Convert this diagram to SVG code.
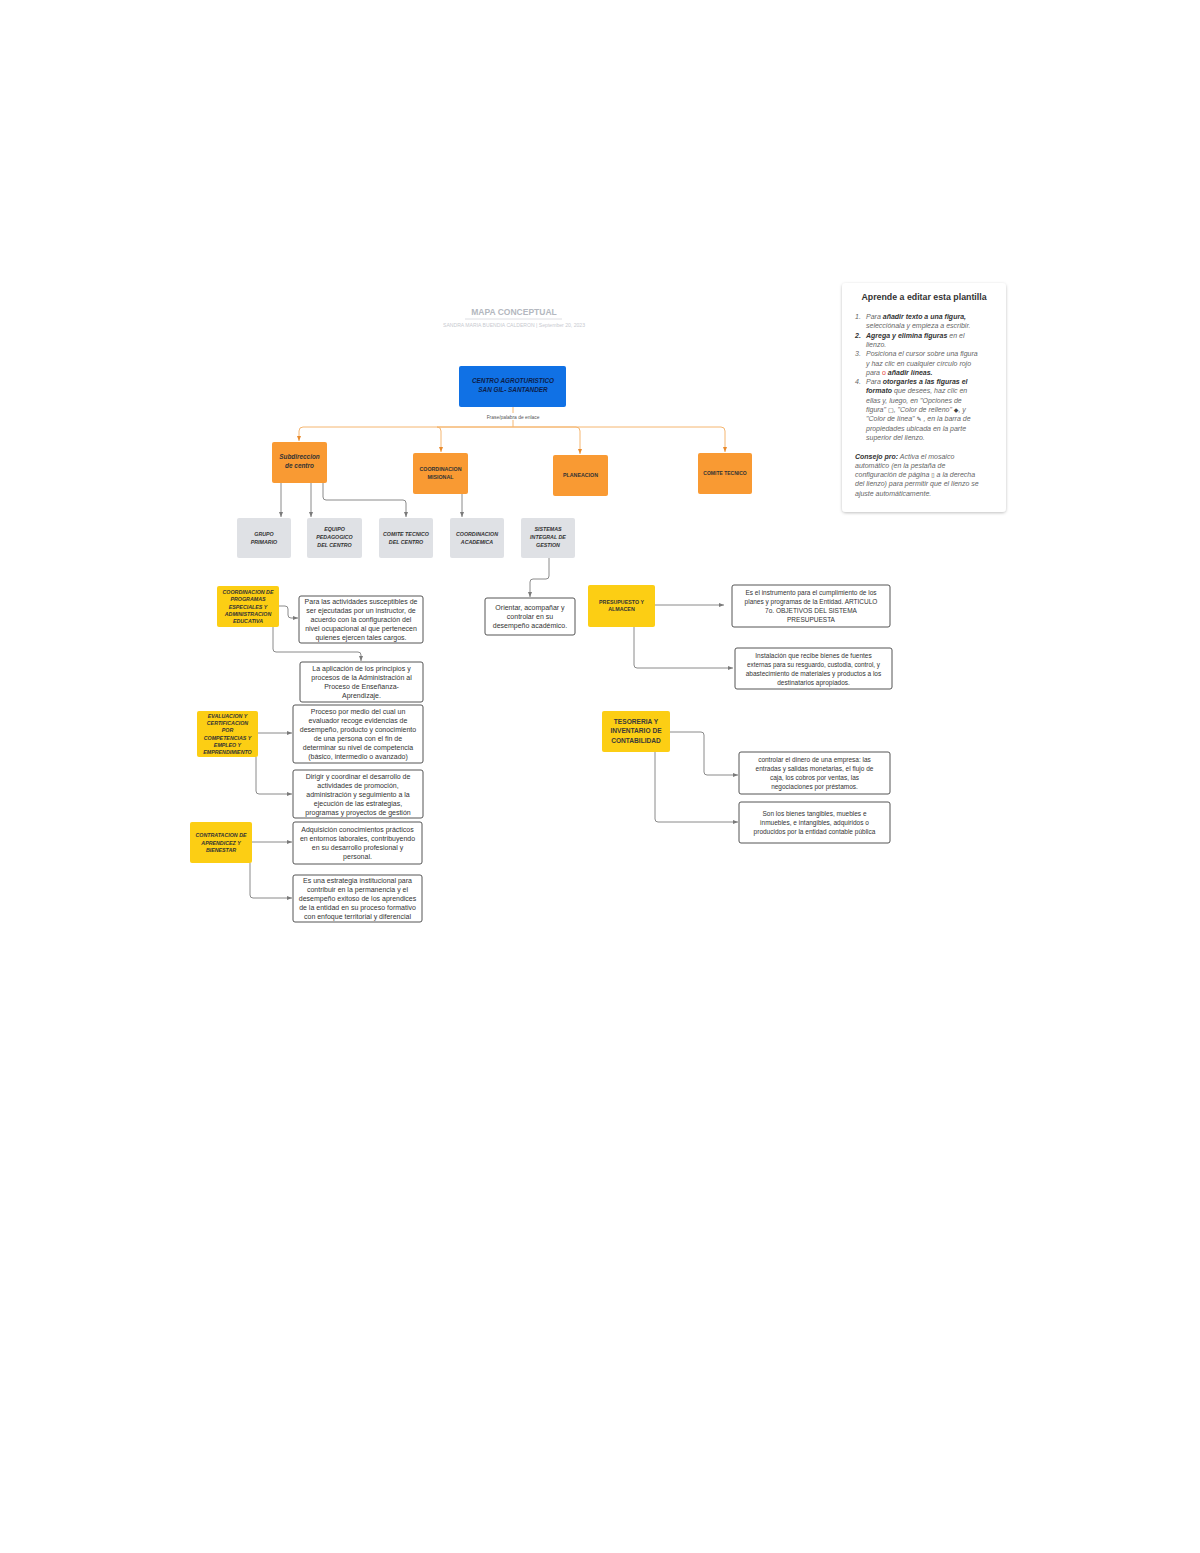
<svg xmlns="http://www.w3.org/2000/svg" width="1200" height="1553" viewBox="0 0 1200 1553">
<defs>
<marker id="ag" viewBox="0 0 10 10" refX="10" refY="5" markerWidth="5" markerHeight="5" orient="auto" markerUnits="userSpaceOnUse"><path d="M0,1 L10,5 L0,9 z" fill="#7a7a7a"/></marker>
<marker id="ao" viewBox="0 0 10 10" refX="10" refY="5" markerWidth="5" markerHeight="5" orient="auto" markerUnits="userSpaceOnUse"><path d="M0,1 L10,5 L0,9 z" fill="#e98a2c"/></marker>
<filter id="sh" x="-10%" y="-10%" width="120%" height="120%"><feDropShadow dx="0" dy="1" stdDeviation="1.5" flood-color="#000" flood-opacity="0.25"/></filter>
</defs>
<style>
text{font-family:"Liberation Sans",Arial,sans-serif;}
.bx{fill:#fff;stroke:#555;stroke-width:1;}
.gr{fill:#dfe1e5;}
.or{fill:#f99a33;}
.ye{fill:#fcce14;}
.t{font-size:7px;fill:#333;text-anchor:middle;}
.tr{font-size:6.5px;fill:#333;text-anchor:middle;}
.n{font-size:5.3px;font-weight:bold;font-style:italic;fill:#333;text-anchor:middle;}
.nb{font-size:5.3px;font-weight:bold;fill:#333;text-anchor:middle;}
.cg{fill:none;stroke:#8a8a8a;stroke-width:1;marker-end:url(#ag);}
.co{fill:none;stroke:#f5b671;stroke-width:1;marker-end:url(#ao);}
.sb{font-size:7px;font-style:italic;fill:#666;}
.sbb{font-weight:bold;fill:#333;}
.ic{font-family:"DejaVu Sans",sans-serif;font-style:normal;fill:#444;font-size:6px;}
</style>
<rect width="1200" height="1553" fill="#fff"/>

<g id="title">
<text x="514" y="315" style="font-size:8.5px;font-weight:bold;fill:#b4b8c0;text-anchor:middle;">MAPA CONCEPTUAL</text>
<line x1="465" y1="319" x2="562" y2="319" stroke="#d4d6da" stroke-width="0.8"/>
<text x="514" y="327" style="font-size:5.1px;fill:#c8cad0;text-anchor:middle;">SANDRA MARIA BUENDIA CALDERON  |  September 20, 2023</text>
</g>

<g id="connectors">
<path d="M513 407 V427" fill="none" stroke="#f5b671" stroke-width="1"/>
<path class="co" d="M513 427 H303 Q299 427 299 431 V441"/>
<path class="co" d="M513 427 H437 Q441 427 441 431 V452"/>
<path class="co" d="M513 427 H576 Q580 427 580 431 V454"/>
<path class="co" d="M513 427 H721 Q725 427 725 431 V452"/>
<path class="cg" d="M281 483 V517"/>
<path class="cg" d="M311 483 V517"/>
<path class="cg" d="M323 483 V497 Q323 500 326 500 H403 Q406 500 406 503 V517"/>
<path class="cg" d="M462 494 V517"/>
<path class="cg" d="M549 558 V576 Q549 579 546 579 H533 Q530 579 530 582 V597"/>
<path class="cg" d="M279 606 H285 Q288 606 288 609 V615 Q288 618 291 618 H298"/>
<path class="cg" d="M273 627 V649 Q273 652 276 652 H358 Q361 652 361 655 V661"/>
<path class="cg" d="M258 733 H292"/>
<path class="cg" d="M256 757 V791 Q256 794 259 794 H292"/>
<path class="cg" d="M252 842 H292"/>
<path class="cg" d="M250 863 V895 Q250 898 253 898 H292"/>
<path class="cg" d="M655 605 H724"/>
<path class="cg" d="M634 627 V665 Q634 668 637 668 H733"/>
<path class="cg" d="M670 732 H701 Q704 732 704 735 V772 Q704 775 707 775 H738"/>
<path class="cg" d="M655 752 V819 Q655 822 658 822 H738"/>
<rect x="483" y="413" width="60" height="7" fill="#fff"/>
<text x="513" y="418.6" style="font-size:4.9px;fill:#555;text-anchor:middle;">Frase/palabra de enlace</text>
</g>

<g id="root">
<rect x="459" y="366" width="107" height="41" rx="2" fill="#1071e5"/>
<text x="513" y="383.3" style="font-size:6.4px;font-weight:bold;font-style:italic;fill:#0d1e4a;text-anchor:middle;">CENTRO  AGROTURISTICO</text>
<text x="513" y="392.3" style="font-size:6.4px;font-weight:bold;font-style:italic;fill:#0d1e4a;text-anchor:middle;">SAN GIL- SANTANDER</text>
</g>

<g id="subdireccion">
<rect class="or" x="272" y="442" width="55" height="41" rx="2"/>
<text class="n" x="299.5" y="459" style="font-size:6.4px;">Subdireccion</text>
<text class="n" x="299.5" y="468" style="font-size:6.4px;">de centro</text>
</g>
<g id="coordinacion-misional">
<rect class="or" x="413" y="453" width="55" height="41" rx="2"/>
<text class="nb" x="440.5" y="471.3">COORDINACION</text>
<text class="nb" x="440.5" y="478.7">MISIONAL</text>
</g>
<g id="planeacion">
<rect class="or" x="553" y="455" width="55" height="41" rx="2"/>
<text class="nb" x="580.5" y="477">PLANEACION</text>
</g>
<g id="comite-tecnico">
<rect class="or" x="698" y="453" width="54" height="41" rx="2"/>
<text class="nb" x="725" y="475" style="font-size:5px;">COMITE TECNICO</text>
</g>

<g id="grupo-primario">
<rect class="gr" x="237" y="518" width="54" height="40" rx="2"/>
<text class="n" x="264" y="536">GRUPO</text>
<text class="n" x="264" y="543.7">PRIMARIO</text>
</g>
<g id="equipo-pedagogico">
<rect class="gr" x="307" y="518" width="55" height="40" rx="2"/>
<text class="n" x="334.5" y="531.3">EQUIPO</text>
<text class="n" x="334.5" y="539.3">PEDAGOGICO</text>
<text class="n" x="334.5" y="547">DEL CENTRO</text>
</g>
<g id="comite-tecnico-centro">
<rect class="gr" x="379" y="518" width="54" height="40" rx="2"/>
<text class="n" x="406" y="536">COMITE TECNICO</text>
<text class="n" x="406" y="543.7">DEL CENTRO</text>
</g>
<g id="coordinacion-academica">
<rect class="gr" x="450" y="518" width="54" height="40" rx="2"/>
<text class="n" x="477" y="536">COORDINACION</text>
<text class="n" x="477" y="543.7">ACADEMICA</text>
</g>
<g id="sistemas">
<rect class="gr" x="521" y="518" width="54" height="40" rx="2"/>
<text class="n" x="548" y="531.3">SISTEMAS</text>
<text class="n" x="548" y="539.3">INTEGRAL DE</text>
<text class="n" x="548" y="547">GESTION</text>
</g>

<g id="orientar">
<rect class="bx" x="485" y="598" width="90" height="37" rx="2"/>
<text class="t" x="530" y="610">Orientar, acompañar y</text>
<text class="t" x="530" y="619">controlar en su</text>
<text class="t" x="530" y="628">desempeño académico.</text>
</g>

<g id="coord-programas">
<rect class="ye" x="217" y="586" width="62" height="41" rx="2"/>
<text class="n" x="248" y="594">COORDINACION DE</text>
<text class="n" x="248" y="601.3">PROGRAMAS</text>
<text class="n" x="248" y="608.6">ESPECIALES Y</text>
<text class="n" x="248" y="615.9">ADMINISTRACION</text>
<text class="n" x="248" y="623.2">EDUCATIVA</text>
</g>
<g id="desc-actividades">
<rect class="bx" x="299" y="596" width="124" height="47" rx="2"/>
<text class="t" x="361" y="604">Para las actividades susceptibles de</text>
<text class="t" x="361" y="613">ser ejecutadas por un instructor, de</text>
<text class="t" x="361" y="622">acuerdo con la configuración del</text>
<text class="t" x="361" y="631">nivel ocupacional al que pertenecen</text>
<text class="t" x="361" y="640">quienes ejercen tales cargos.</text>
</g>
<g id="desc-aplicacion">
<rect class="bx" x="300" y="662" width="123" height="40" rx="2"/>
<text class="t" x="361.5" y="671">La aplicación de los principios y</text>
<text class="t" x="361.5" y="680">procesos de la Administración al</text>
<text class="t" x="361.5" y="689">Proceso de Enseñanza-</text>
<text class="t" x="361.5" y="698">Aprendizaje.</text>
</g>

<g id="evaluacion">
<rect class="ye" x="197" y="711" width="61" height="46" rx="2"/>
<text class="n" x="227.5" y="717.8">EVALUACION Y</text>
<text class="n" x="227.5" y="725.1">CERTIFICACION</text>
<text class="n" x="227.5" y="732.4">POR</text>
<text class="n" x="227.5" y="739.7">COMPETENCIAS Y</text>
<text class="n" x="227.5" y="747">EMPLEO Y</text>
<text class="n" x="227.5" y="754.3">EMPRENDIMIENTO</text>
</g>
<g id="desc-proceso">
<rect class="bx" x="293" y="705" width="130" height="58" rx="2"/>
<text class="t" x="358" y="714">Proceso por medio del cual un</text>
<text class="t" x="358" y="723">evaluador recoge evidencias de</text>
<text class="t" x="358" y="732">desempeño, producto y conocimiento</text>
<text class="t" x="358" y="741">de una persona con el fin de</text>
<text class="t" x="358" y="750">determinar su nivel de competencia</text>
<text class="t" x="358" y="759">(básico, intermedio o avanzado)</text>
</g>
<g id="desc-dirigir">
<rect class="bx" x="293" y="770" width="130" height="48" rx="2"/>
<text class="t" x="358" y="778.5">Dirigir y coordinar el desarrollo de</text>
<text class="t" x="358" y="787.5">actividades de promoción,</text>
<text class="t" x="358" y="796.5">administración y seguimiento a la</text>
<text class="t" x="358" y="805.5">ejecución de las estrategias,</text>
<text class="t" x="358" y="814.5">programas y proyectos de gestión</text>
</g>

<g id="contratacion">
<rect class="ye" x="190" y="822" width="62" height="41" rx="2"/>
<text class="n" x="221" y="837.2">CONTRATACION DE</text>
<text class="n" x="221" y="844.5">APRENDICEZ Y</text>
<text class="n" x="221" y="851.8">BIENESTAR</text>
</g>
<g id="desc-adquisicion">
<rect class="bx" x="293" y="822" width="129" height="42" rx="2"/>
<text class="t" x="357.5" y="832">Adquisición conocimientos prácticos</text>
<text class="t" x="357.5" y="841">en entornos laborales, contribuyendo</text>
<text class="t" x="357.5" y="850">en su desarrollo profesional y</text>
<text class="t" x="357.5" y="859">personal.</text>
</g>
<g id="desc-estrategia">
<rect class="bx" x="293" y="875" width="129" height="47" rx="2"/>
<text class="t" x="357.5" y="883">Es una estrategia institucional para</text>
<text class="t" x="357.5" y="892">contribuir en la permanencia y el</text>
<text class="t" x="357.5" y="901">desempeño exitoso de los aprendices</text>
<text class="t" x="357.5" y="910">de la entidad en su proceso formativo</text>
<text class="t" x="357.5" y="919">con enfoque territorial y diferencial</text>
</g>

<g id="presupuesto">
<rect class="ye" x="588" y="585" width="67" height="42" rx="2"/>
<text class="nb" x="621.5" y="603.5">PRESUPUESTO Y</text>
<text class="nb" x="621.5" y="611">ALMACEN</text>
</g>
<g id="desc-instrumento">
<rect class="bx" x="732" y="585" width="158" height="42" rx="2"/>
<text class="tr" x="811" y="595">Es el instrumento para el cumplimiento de los</text>
<text class="tr" x="811" y="604">planes y programas de la Entidad. ARTICULO</text>
<text class="tr" x="811" y="613">7o. OBJETIVOS DEL SISTEMA</text>
<text class="tr" x="811" y="622">PRESUPUESTA</text>
</g>
<g id="desc-instalacion">
<rect class="bx" x="735" y="648" width="157" height="41" rx="2"/>
<text class="tr" x="813.5" y="657.5">Instalación que recibe bienes de fuentes</text>
<text class="tr" x="813.5" y="666.5" style="font-size:6.3px;">externas para su resguardo, custodia, control, y</text>
<text class="tr" x="813.5" y="675.5">abastecimiento de materiales y productos a los</text>
<text class="tr" x="813.5" y="684.5">destinatarios apropiados.</text>
</g>

<g id="tesoreria">
<rect class="ye" x="602" y="711" width="68" height="41" rx="2"/>
<text x="636" y="723.5" style="font-size:6.6px;font-weight:bold;fill:#3a3a3a;text-anchor:middle;">TESORERIA Y</text>
<text x="636" y="733" style="font-size:6.6px;font-weight:bold;fill:#3a3a3a;text-anchor:middle;">INVENTARIO DE</text>
<text x="636" y="742.5" style="font-size:6.6px;font-weight:bold;fill:#3a3a3a;text-anchor:middle;">CONTABILIDAD</text>
</g>
<g id="desc-controlar">
<rect class="bx" x="739" y="752" width="151" height="42" rx="2"/>
<text class="tr" x="814.5" y="762">controlar el dinero de una empresa: las</text>
<text class="tr" x="814.5" y="771">entradas y salidas monetarias, el flujo de</text>
<text class="tr" x="814.5" y="780">caja, los cobros por ventas, las</text>
<text class="tr" x="814.5" y="789">negociaciones por préstamos.</text>
</g>
<g id="desc-bienes">
<rect class="bx" x="739" y="802" width="151" height="41" rx="2"/>
<text class="tr" x="814.5" y="816">Son los bienes tangibles, muebles e</text>
<text class="tr" x="814.5" y="825">inmuebles, e intangibles, adquiridos o</text>
<text class="tr" x="814.5" y="834">producidos por la entidad contable pública</text>
</g>

<g id="sidebar">
<rect x="842" y="283" width="164" height="229" rx="4" fill="#fff" filter="url(#sh)"/>
<text x="924" y="300" style="font-size:8.8px;font-weight:bold;fill:#333;text-anchor:middle;">Aprende a editar esta plantilla</text>
<text class="sb" x="855" y="319">1.</text>
<text class="sb" x="866" y="319">Para <tspan class="sbb">añadir texto a una figura,</tspan></text>
<text class="sb" x="866" y="328.3">selecciónala y empieza a escribir.</text>
<text class="sb sbb" x="855" y="337.6">2.</text>
<text class="sb" x="866" y="337.6"><tspan class="sbb">Agrega y elimina figuras</tspan> en el</text>
<text class="sb" x="866" y="346.9">lienzo.</text>
<text class="sb" x="855" y="356.2">3.</text>
<text class="sb" x="866" y="356.2">Posiciona el cursor sobre una figura</text>
<text class="sb" x="866" y="365.5">y haz clic en cualquier círculo rojo</text>
<text class="sb" x="866" y="374.8">para <tspan style="fill:#e53935;font-style:normal;">o</tspan> <tspan class="sbb">añadir líneas.</tspan></text>
<text class="sb" x="855" y="384.1">4.</text>
<text class="sb" x="866" y="384.1">Para <tspan class="sbb">otorgarles a las figuras el</tspan></text>
<text class="sb" x="866" y="393.4"><tspan class="sbb">formato</tspan> que desees, haz clic en</text>
<text class="sb" x="866" y="402.7">ellas y, luego, en "Opciones de</text>
<text class="sb" x="866" y="412">figura" <tspan class="ic">▢</tspan>, "Color de relleno" <tspan class="ic">◆</tspan>, y</text>
<text class="sb" x="866" y="421.3">"Color de línea" <tspan class="ic">✎</tspan> , en la barra de</text>
<text class="sb" x="866" y="430.6">propiedades ubicada en la parte</text>
<text class="sb" x="866" y="439.9">superior del lienzo.</text>
<text class="sb" x="855" y="458.5"><tspan class="sbb">Consejo pro:</tspan> Activa el mosaico</text>
<text class="sb" x="855" y="467.8">automático (en la pestaña de</text>
<text class="sb" x="855" y="477.1">configuración de página <tspan class="ic">▯</tspan> a la derecha</text>
<text class="sb" x="855" y="486.4">del lienzo) para permitir que el lienzo se</text>
<text class="sb" x="855" y="495.7">ajuste automáticamente.</text>
</g>
</svg>
